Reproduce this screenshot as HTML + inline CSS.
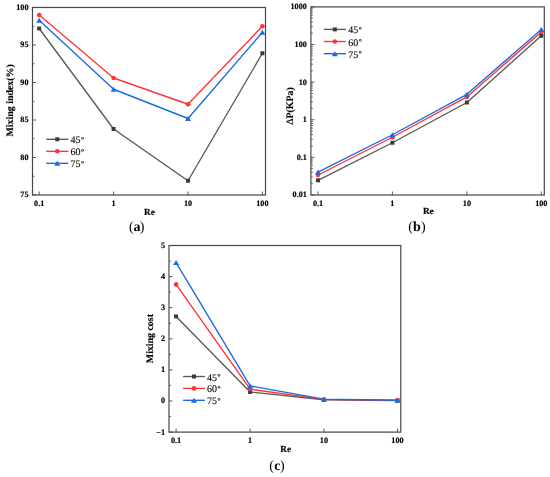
<!DOCTYPE html>
<html><head><meta charset="utf-8"><style>
html,body{margin:0;padding:0;background:#fff;}
svg{display:block;}
text{font-family:"Liberation Serif", "Times New Roman", serif;fill:#000;text-rendering:geometricPrecision;}
text.b{stroke:#000;stroke-width:0.15px;}
text.l{stroke:#222;stroke-width:0.14px;}
</style></head><body>
<svg width="550" height="477" viewBox="0 0 550 477">
<rect width="550" height="477" fill="#fff"/>
<rect x="32.5" y="7.5" width="233.00" height="187.50" fill="none" stroke="#474747" stroke-width="1.2"/>
<line x1="39.20" y1="195.0" x2="39.20" y2="191.5" stroke="#474747" stroke-width="0.9"/>
<line x1="113.60" y1="195.0" x2="113.60" y2="191.5" stroke="#474747" stroke-width="0.9"/>
<line x1="188.00" y1="195.0" x2="188.00" y2="191.5" stroke="#474747" stroke-width="0.9"/>
<line x1="262.40" y1="195.0" x2="262.40" y2="191.5" stroke="#474747" stroke-width="0.9"/>
<line x1="32.5" y1="195.00" x2="36.0" y2="195.00" stroke="#474747" stroke-width="0.9"/>
<line x1="32.5" y1="157.50" x2="36.0" y2="157.50" stroke="#474747" stroke-width="0.9"/>
<line x1="32.5" y1="120.00" x2="36.0" y2="120.00" stroke="#474747" stroke-width="0.9"/>
<line x1="32.5" y1="82.50" x2="36.0" y2="82.50" stroke="#474747" stroke-width="0.9"/>
<line x1="32.5" y1="45.00" x2="36.0" y2="45.00" stroke="#474747" stroke-width="0.9"/>
<line x1="32.5" y1="7.50" x2="36.0" y2="7.50" stroke="#474747" stroke-width="0.9"/>
<line x1="32.5" y1="176.25" x2="34.5" y2="176.25" stroke="#474747" stroke-width="0.8"/>
<line x1="32.5" y1="138.75" x2="34.5" y2="138.75" stroke="#474747" stroke-width="0.8"/>
<line x1="32.5" y1="101.25" x2="34.5" y2="101.25" stroke="#474747" stroke-width="0.8"/>
<line x1="32.5" y1="63.75" x2="34.5" y2="63.75" stroke="#474747" stroke-width="0.8"/>
<line x1="32.5" y1="26.25" x2="34.5" y2="26.25" stroke="#474747" stroke-width="0.8"/>
<text class="b" x="28.50" y="197.45" font-size="8.2" text-anchor="end" font-weight="bold" >75</text>
<text class="b" x="28.50" y="159.95" font-size="8.2" text-anchor="end" font-weight="bold" >80</text>
<text class="b" x="28.50" y="122.45" font-size="8.2" text-anchor="end" font-weight="bold" >85</text>
<text class="b" x="28.50" y="84.95" font-size="8.2" text-anchor="end" font-weight="bold" >90</text>
<text class="b" x="28.50" y="47.45" font-size="8.2" text-anchor="end" font-weight="bold" >95</text>
<text class="b" x="28.50" y="9.95" font-size="8.2" text-anchor="end" font-weight="bold" >100</text>
<text class="b" x="39.20" y="205.80" font-size="8.2" text-anchor="middle" font-weight="bold" >0.1</text>
<text class="b" x="113.60" y="205.80" font-size="8.2" text-anchor="middle" font-weight="bold" >1</text>
<text class="b" x="188.00" y="205.80" font-size="8.2" text-anchor="middle" font-weight="bold" >10</text>
<text class="b" x="262.40" y="205.80" font-size="8.2" text-anchor="middle" font-weight="bold" >100</text>
<text class="b" x="149.50" y="214.50" font-size="9.3" text-anchor="middle" font-weight="bold" >Re</text>
<text class="b" x="12.90" y="100.40" font-size="9.9" text-anchor="middle" font-weight="bold" transform="rotate(-90 12.90 100.40)">Mixing index(%)</text>
<text x="129.10" y="231.20" font-size="14.0" text-anchor="start">(<tspan font-weight="bold" dx="-0.2">a</tspan><tspan dx="-0.7">)</tspan></text>
<polyline points="39.20,28.50 113.60,129.00 188.00,180.75 262.40,53.25" fill="none" stroke="#595959" stroke-width="1.35" stroke-linejoin="round"/>
<polyline points="39.20,15.00 113.60,78.00 188.00,104.25 262.40,26.25" fill="none" stroke="#ff3333" stroke-width="1.35" stroke-linejoin="round"/>
<polyline points="39.20,20.25 113.60,89.25 188.00,118.50 262.40,32.25" fill="none" stroke="#1a6ae6" stroke-width="1.35" stroke-linejoin="round"/>
<rect x="37.20" y="26.50" width="4.0" height="4.0" fill="#3a3a3a"/>
<rect x="111.60" y="127.00" width="4.0" height="4.0" fill="#3a3a3a"/>
<rect x="186.00" y="178.75" width="4.0" height="4.0" fill="#3a3a3a"/>
<rect x="260.40" y="51.25" width="4.0" height="4.0" fill="#3a3a3a"/>
<circle cx="39.20" cy="15.00" r="2.3" fill="#ff3333"/>
<circle cx="113.60" cy="78.00" r="2.3" fill="#ff3333"/>
<circle cx="188.00" cy="104.25" r="2.3" fill="#ff3333"/>
<circle cx="262.40" cy="26.25" r="2.3" fill="#ff3333"/>
<polygon points="39.20,17.75 42.20,22.75 36.20,22.75" fill="#1a6ae6"/>
<polygon points="113.60,86.75 116.60,91.75 110.60,91.75" fill="#1a6ae6"/>
<polygon points="188.00,116.00 191.00,121.00 185.00,121.00" fill="#1a6ae6"/>
<polygon points="262.40,29.75 265.40,34.75 259.40,34.75" fill="#1a6ae6"/>
<line x1="46.2" y1="139.3" x2="68.3" y2="139.3" stroke="#595959" stroke-width="1.35"/>
<rect x="55.25" y="137.30" width="4.0" height="4.0" fill="#3a3a3a"/>
<text class="l" x="70.6" y="143.30" font-size="10.0" text-anchor="start">45<tspan font-family="DejaVu Serif" font-size="8.00" dy="-0.7">°</tspan></text>
<line x1="46.2" y1="151.3" x2="68.3" y2="151.3" stroke="#ff3333" stroke-width="1.35"/>
<circle cx="57.25" cy="151.30" r="2.3" fill="#ff3333"/>
<text class="l" x="70.6" y="155.30" font-size="10.0" text-anchor="start">60<tspan font-family="DejaVu Serif" font-size="8.00" dy="-0.7">°</tspan></text>
<line x1="46.2" y1="163.3" x2="68.3" y2="163.3" stroke="#1a6ae6" stroke-width="1.35"/>
<polygon points="57.25,160.80 60.25,165.80 54.25,165.80" fill="#1a6ae6"/>
<text class="l" x="70.6" y="167.30" font-size="10.0" text-anchor="start">75<tspan font-family="DejaVu Serif" font-size="8.00" dy="-0.7">°</tspan></text>
<rect x="310.9" y="6.9" width="233.40" height="188.10" fill="none" stroke="#474747" stroke-width="1.2"/>
<line x1="318.00" y1="195.0" x2="318.00" y2="191.5" stroke="#474747" stroke-width="0.9"/>
<line x1="392.40" y1="195.0" x2="392.40" y2="191.5" stroke="#474747" stroke-width="0.9"/>
<line x1="466.90" y1="195.0" x2="466.90" y2="191.5" stroke="#474747" stroke-width="0.9"/>
<line x1="541.30" y1="195.0" x2="541.30" y2="191.5" stroke="#474747" stroke-width="0.9"/>
<line x1="310.9" y1="195.00" x2="314.4" y2="195.00" stroke="#474747" stroke-width="0.9"/>
<line x1="310.9" y1="157.38" x2="314.4" y2="157.38" stroke="#474747" stroke-width="0.9"/>
<line x1="310.9" y1="119.76" x2="314.4" y2="119.76" stroke="#474747" stroke-width="0.9"/>
<line x1="310.9" y1="82.14" x2="314.4" y2="82.14" stroke="#474747" stroke-width="0.9"/>
<line x1="310.9" y1="44.52" x2="314.4" y2="44.52" stroke="#474747" stroke-width="0.9"/>
<line x1="310.9" y1="6.90" x2="314.4" y2="6.90" stroke="#474747" stroke-width="0.9"/>
<line x1="310.9" y1="183.68" x2="312.9" y2="183.68" stroke="#474747" stroke-width="0.8"/>
<line x1="310.9" y1="177.05" x2="312.9" y2="177.05" stroke="#474747" stroke-width="0.8"/>
<line x1="310.9" y1="172.35" x2="312.9" y2="172.35" stroke="#474747" stroke-width="0.8"/>
<line x1="310.9" y1="168.70" x2="312.9" y2="168.70" stroke="#474747" stroke-width="0.8"/>
<line x1="310.9" y1="165.73" x2="312.9" y2="165.73" stroke="#474747" stroke-width="0.8"/>
<line x1="310.9" y1="163.21" x2="312.9" y2="163.21" stroke="#474747" stroke-width="0.8"/>
<line x1="310.9" y1="161.03" x2="312.9" y2="161.03" stroke="#474747" stroke-width="0.8"/>
<line x1="310.9" y1="159.10" x2="312.9" y2="159.10" stroke="#474747" stroke-width="0.8"/>
<line x1="310.9" y1="146.06" x2="312.9" y2="146.06" stroke="#474747" stroke-width="0.8"/>
<line x1="310.9" y1="139.43" x2="312.9" y2="139.43" stroke="#474747" stroke-width="0.8"/>
<line x1="310.9" y1="134.73" x2="312.9" y2="134.73" stroke="#474747" stroke-width="0.8"/>
<line x1="310.9" y1="131.08" x2="312.9" y2="131.08" stroke="#474747" stroke-width="0.8"/>
<line x1="310.9" y1="128.11" x2="312.9" y2="128.11" stroke="#474747" stroke-width="0.8"/>
<line x1="310.9" y1="125.59" x2="312.9" y2="125.59" stroke="#474747" stroke-width="0.8"/>
<line x1="310.9" y1="123.41" x2="312.9" y2="123.41" stroke="#474747" stroke-width="0.8"/>
<line x1="310.9" y1="121.48" x2="312.9" y2="121.48" stroke="#474747" stroke-width="0.8"/>
<line x1="310.9" y1="108.44" x2="312.9" y2="108.44" stroke="#474747" stroke-width="0.8"/>
<line x1="310.9" y1="101.81" x2="312.9" y2="101.81" stroke="#474747" stroke-width="0.8"/>
<line x1="310.9" y1="97.11" x2="312.9" y2="97.11" stroke="#474747" stroke-width="0.8"/>
<line x1="310.9" y1="93.46" x2="312.9" y2="93.46" stroke="#474747" stroke-width="0.8"/>
<line x1="310.9" y1="90.49" x2="312.9" y2="90.49" stroke="#474747" stroke-width="0.8"/>
<line x1="310.9" y1="87.97" x2="312.9" y2="87.97" stroke="#474747" stroke-width="0.8"/>
<line x1="310.9" y1="85.79" x2="312.9" y2="85.79" stroke="#474747" stroke-width="0.8"/>
<line x1="310.9" y1="83.86" x2="312.9" y2="83.86" stroke="#474747" stroke-width="0.8"/>
<line x1="310.9" y1="70.82" x2="312.9" y2="70.82" stroke="#474747" stroke-width="0.8"/>
<line x1="310.9" y1="64.19" x2="312.9" y2="64.19" stroke="#474747" stroke-width="0.8"/>
<line x1="310.9" y1="59.49" x2="312.9" y2="59.49" stroke="#474747" stroke-width="0.8"/>
<line x1="310.9" y1="55.84" x2="312.9" y2="55.84" stroke="#474747" stroke-width="0.8"/>
<line x1="310.9" y1="52.87" x2="312.9" y2="52.87" stroke="#474747" stroke-width="0.8"/>
<line x1="310.9" y1="50.35" x2="312.9" y2="50.35" stroke="#474747" stroke-width="0.8"/>
<line x1="310.9" y1="48.17" x2="312.9" y2="48.17" stroke="#474747" stroke-width="0.8"/>
<line x1="310.9" y1="46.24" x2="312.9" y2="46.24" stroke="#474747" stroke-width="0.8"/>
<line x1="310.9" y1="33.20" x2="312.9" y2="33.20" stroke="#474747" stroke-width="0.8"/>
<line x1="310.9" y1="26.57" x2="312.9" y2="26.57" stroke="#474747" stroke-width="0.8"/>
<line x1="310.9" y1="21.87" x2="312.9" y2="21.87" stroke="#474747" stroke-width="0.8"/>
<line x1="310.9" y1="18.22" x2="312.9" y2="18.22" stroke="#474747" stroke-width="0.8"/>
<line x1="310.9" y1="15.25" x2="312.9" y2="15.25" stroke="#474747" stroke-width="0.8"/>
<line x1="310.9" y1="12.73" x2="312.9" y2="12.73" stroke="#474747" stroke-width="0.8"/>
<line x1="310.9" y1="10.55" x2="312.9" y2="10.55" stroke="#474747" stroke-width="0.8"/>
<line x1="310.9" y1="8.62" x2="312.9" y2="8.62" stroke="#474747" stroke-width="0.8"/>
<text class="b" x="306.90" y="197.45" font-size="8.2" text-anchor="end" font-weight="bold" >0.01</text>
<text class="b" x="306.90" y="159.83" font-size="8.2" text-anchor="end" font-weight="bold" >0.1</text>
<text class="b" x="306.90" y="122.21" font-size="8.2" text-anchor="end" font-weight="bold" >1</text>
<text class="b" x="306.90" y="84.59" font-size="8.2" text-anchor="end" font-weight="bold" >10</text>
<text class="b" x="306.90" y="46.97" font-size="8.2" text-anchor="end" font-weight="bold" >100</text>
<text class="b" x="306.90" y="9.35" font-size="8.2" text-anchor="end" font-weight="bold" >1000</text>
<text class="b" x="318.00" y="205.80" font-size="8.2" text-anchor="middle" font-weight="bold" >0.1</text>
<text class="b" x="392.40" y="205.80" font-size="8.2" text-anchor="middle" font-weight="bold" >1</text>
<text class="b" x="466.90" y="205.80" font-size="8.2" text-anchor="middle" font-weight="bold" >10</text>
<text class="b" x="541.30" y="205.80" font-size="8.2" text-anchor="middle" font-weight="bold" >100</text>
<text class="b" x="428.30" y="214.30" font-size="9.3" text-anchor="middle" font-weight="bold" >Re</text>
<text class="b" x="292.80" y="106.00" font-size="9.9" text-anchor="middle" font-weight="bold" transform="rotate(-90 292.80 106.00)"><tspan font-weight="normal">Δ</tspan>P(KPa)</text>
<text x="408.30" y="231.20" font-size="14.0" text-anchor="start">(<tspan font-weight="bold" dx="0.1">b</tspan><tspan dx="0.2">)</tspan></text>
<polyline points="318.00,180.29 392.40,142.74 466.90,102.48 541.30,35.75" fill="none" stroke="#595959" stroke-width="1.35" stroke-linejoin="round"/>
<polyline points="318.00,175.01 392.40,137.24 466.90,96.91 541.30,31.94" fill="none" stroke="#ff3333" stroke-width="1.35" stroke-linejoin="round"/>
<polyline points="318.00,172.07 392.40,134.73 466.90,94.34 541.30,29.42" fill="none" stroke="#1a6ae6" stroke-width="1.35" stroke-linejoin="round"/>
<rect x="316.00" y="178.29" width="4.0" height="4.0" fill="#3a3a3a"/>
<rect x="390.40" y="140.74" width="4.0" height="4.0" fill="#3a3a3a"/>
<rect x="464.90" y="100.48" width="4.0" height="4.0" fill="#3a3a3a"/>
<rect x="539.30" y="33.75" width="4.0" height="4.0" fill="#3a3a3a"/>
<circle cx="318.00" cy="175.01" r="2.3" fill="#ff3333"/>
<circle cx="392.40" cy="137.24" r="2.3" fill="#ff3333"/>
<circle cx="466.90" cy="96.91" r="2.3" fill="#ff3333"/>
<circle cx="541.30" cy="31.94" r="2.3" fill="#ff3333"/>
<polygon points="318.00,169.57 321.00,174.57 315.00,174.57" fill="#1a6ae6"/>
<polygon points="392.40,132.23 395.40,137.23 389.40,137.23" fill="#1a6ae6"/>
<polygon points="466.90,91.84 469.90,96.84 463.90,96.84" fill="#1a6ae6"/>
<polygon points="541.30,26.92 544.30,31.92 538.30,31.92" fill="#1a6ae6"/>
<line x1="323.8" y1="29.4" x2="345.9" y2="29.4" stroke="#595959" stroke-width="1.35"/>
<rect x="332.85" y="27.40" width="4.0" height="4.0" fill="#3a3a3a"/>
<text class="l" x="348.2" y="33.40" font-size="10.0" text-anchor="start">45<tspan font-family="DejaVu Serif" font-size="8.00" dy="-0.7">°</tspan></text>
<line x1="323.8" y1="41.5" x2="345.9" y2="41.5" stroke="#ff3333" stroke-width="1.35"/>
<circle cx="334.85" cy="41.50" r="2.3" fill="#ff3333"/>
<text class="l" x="348.2" y="45.50" font-size="10.0" text-anchor="start">60<tspan font-family="DejaVu Serif" font-size="8.00" dy="-0.7">°</tspan></text>
<line x1="323.8" y1="53.7" x2="345.9" y2="53.7" stroke="#1a6ae6" stroke-width="1.35"/>
<polygon points="334.85,51.20 337.85,56.20 331.85,56.20" fill="#1a6ae6"/>
<text class="l" x="348.2" y="57.70" font-size="10.0" text-anchor="start">75<tspan font-family="DejaVu Serif" font-size="8.00" dy="-0.7">°</tspan></text>
<rect x="169.0" y="245.5" width="231.80" height="186.60" fill="none" stroke="#474747" stroke-width="1.2"/>
<line x1="176.10" y1="432.1" x2="176.10" y2="428.6" stroke="#474747" stroke-width="0.9"/>
<line x1="250.10" y1="432.1" x2="250.10" y2="428.6" stroke="#474747" stroke-width="0.9"/>
<line x1="323.90" y1="432.1" x2="323.90" y2="428.6" stroke="#474747" stroke-width="0.9"/>
<line x1="397.50" y1="432.1" x2="397.50" y2="428.6" stroke="#474747" stroke-width="0.9"/>
<line x1="169.0" y1="432.10" x2="172.5" y2="432.10" stroke="#474747" stroke-width="0.9"/>
<line x1="169.0" y1="401.00" x2="172.5" y2="401.00" stroke="#474747" stroke-width="0.9"/>
<line x1="169.0" y1="369.90" x2="172.5" y2="369.90" stroke="#474747" stroke-width="0.9"/>
<line x1="169.0" y1="338.80" x2="172.5" y2="338.80" stroke="#474747" stroke-width="0.9"/>
<line x1="169.0" y1="307.70" x2="172.5" y2="307.70" stroke="#474747" stroke-width="0.9"/>
<line x1="169.0" y1="276.60" x2="172.5" y2="276.60" stroke="#474747" stroke-width="0.9"/>
<line x1="169.0" y1="245.50" x2="172.5" y2="245.50" stroke="#474747" stroke-width="0.9"/>
<line x1="169.0" y1="416.55" x2="171.0" y2="416.55" stroke="#474747" stroke-width="0.8"/>
<line x1="169.0" y1="385.45" x2="171.0" y2="385.45" stroke="#474747" stroke-width="0.8"/>
<line x1="169.0" y1="354.35" x2="171.0" y2="354.35" stroke="#474747" stroke-width="0.8"/>
<line x1="169.0" y1="323.25" x2="171.0" y2="323.25" stroke="#474747" stroke-width="0.8"/>
<line x1="169.0" y1="292.15" x2="171.0" y2="292.15" stroke="#474747" stroke-width="0.8"/>
<line x1="169.0" y1="261.05" x2="171.0" y2="261.05" stroke="#474747" stroke-width="0.8"/>
<text class="b" x="165.00" y="434.55" font-size="8.2" text-anchor="end" font-weight="bold" >−1</text>
<text class="b" x="165.00" y="403.45" font-size="8.2" text-anchor="end" font-weight="bold" >0</text>
<text class="b" x="165.00" y="372.35" font-size="8.2" text-anchor="end" font-weight="bold" >1</text>
<text class="b" x="165.00" y="341.25" font-size="8.2" text-anchor="end" font-weight="bold" >2</text>
<text class="b" x="165.00" y="310.15" font-size="8.2" text-anchor="end" font-weight="bold" >3</text>
<text class="b" x="165.00" y="279.05" font-size="8.2" text-anchor="end" font-weight="bold" >4</text>
<text class="b" x="165.00" y="247.95" font-size="8.2" text-anchor="end" font-weight="bold" >5</text>
<text class="b" x="176.10" y="443.00" font-size="8.2" text-anchor="middle" font-weight="bold" >0.1</text>
<text class="b" x="250.10" y="443.00" font-size="8.2" text-anchor="middle" font-weight="bold" >1</text>
<text class="b" x="323.90" y="443.00" font-size="8.2" text-anchor="middle" font-weight="bold" >10</text>
<text class="b" x="397.50" y="443.00" font-size="8.2" text-anchor="middle" font-weight="bold" >100</text>
<text class="b" x="285.60" y="451.80" font-size="9.3" text-anchor="middle" font-weight="bold" >Re</text>
<text class="b" x="152.60" y="338.60" font-size="9.9" text-anchor="middle" font-weight="bold" transform="rotate(-90 152.60 338.60)">Mixing cost</text>
<text x="269.30" y="469.80" font-size="14.0" text-anchor="start">(<tspan font-weight="bold" dx="0.2">c</tspan><tspan dx="-0.5">)</tspan></text>
<polyline points="176.10,316.41 250.10,391.98 323.90,399.76 397.50,400.53" fill="none" stroke="#595959" stroke-width="1.35" stroke-linejoin="round"/>
<polyline points="176.10,284.38 250.10,389.18 323.90,399.45 397.50,400.38" fill="none" stroke="#ff3333" stroke-width="1.35" stroke-linejoin="round"/>
<polyline points="176.10,262.61 250.10,385.92 323.90,399.13 397.50,400.22" fill="none" stroke="#1a6ae6" stroke-width="1.35" stroke-linejoin="round"/>
<rect x="174.10" y="314.41" width="4.0" height="4.0" fill="#3a3a3a"/>
<rect x="248.10" y="389.98" width="4.0" height="4.0" fill="#3a3a3a"/>
<rect x="321.90" y="397.76" width="4.0" height="4.0" fill="#3a3a3a"/>
<rect x="395.50" y="398.53" width="4.0" height="4.0" fill="#3a3a3a"/>
<circle cx="176.10" cy="284.38" r="2.3" fill="#ff3333"/>
<circle cx="250.10" cy="389.18" r="2.3" fill="#ff3333"/>
<circle cx="323.90" cy="399.45" r="2.3" fill="#ff3333"/>
<circle cx="397.50" cy="400.38" r="2.3" fill="#ff3333"/>
<polygon points="176.10,260.11 179.10,265.11 173.10,265.11" fill="#1a6ae6"/>
<polygon points="250.10,383.42 253.10,388.42 247.10,388.42" fill="#1a6ae6"/>
<polygon points="323.90,396.63 326.90,401.63 320.90,401.63" fill="#1a6ae6"/>
<polygon points="397.50,397.72 400.50,402.72 394.50,402.72" fill="#1a6ae6"/>
<line x1="183.1" y1="376.5" x2="204.9" y2="376.5" stroke="#595959" stroke-width="1.35"/>
<rect x="192.00" y="374.50" width="4.0" height="4.0" fill="#3a3a3a"/>
<text class="l" x="207.0" y="380.50" font-size="10.0" text-anchor="start">45<tspan font-family="DejaVu Serif" font-size="8.00" dy="-0.7">°</tspan></text>
<line x1="183.1" y1="388.4" x2="204.9" y2="388.4" stroke="#ff3333" stroke-width="1.35"/>
<circle cx="194.00" cy="388.40" r="2.3" fill="#ff3333"/>
<text class="l" x="207.0" y="392.40" font-size="10.0" text-anchor="start">60<tspan font-family="DejaVu Serif" font-size="8.00" dy="-0.7">°</tspan></text>
<line x1="183.1" y1="400.3" x2="204.9" y2="400.3" stroke="#1a6ae6" stroke-width="1.35"/>
<polygon points="194.00,397.80 197.00,402.80 191.00,402.80" fill="#1a6ae6"/>
<text class="l" x="207.0" y="404.30" font-size="10.0" text-anchor="start">75<tspan font-family="DejaVu Serif" font-size="8.00" dy="-0.7">°</tspan></text>
</svg>
</body></html>
